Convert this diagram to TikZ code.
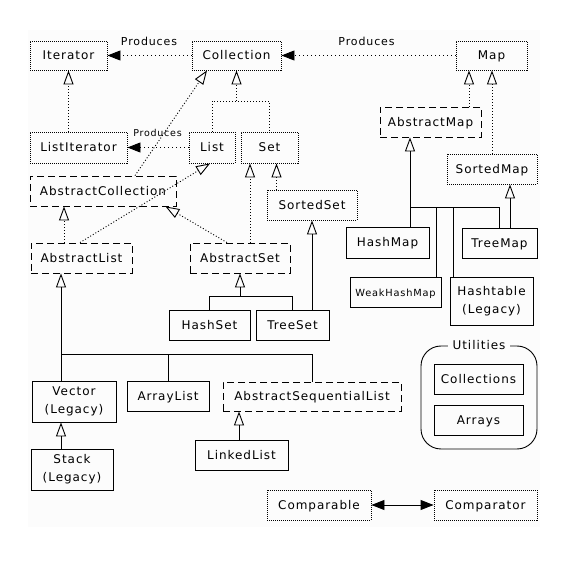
\documentclass[tikz,border=0pt]{standalone}
\usepackage{fontspec}
\setmainfont{DejaVu Sans}[LetterSpace=8]
\usetikzlibrary{arrows.meta}
\definecolor{bggray}{gray}{0.988}
\newcommand\diagfont{\fontsize{12}{18}\selectfont}
\newcommand\prodfont{\fontsize{11}{13}\selectfont}
\newcommand\prodsmall{\fontsize{9.5}{11}\selectfont}
\newcommand\tinyfnt{\fontsize{9.8}{11}\selectfont}
\begin{document}
\begin{tikzpicture}[x=1pt,y=-1pt,
  boxbase/.style={draw, line width=0.9pt, inner sep=0pt, align=center, font=\diagfont},
  oneline/.style={text height=8.8pt, text depth=0pt},
  ifbox/.style={boxbase, oneline, dash pattern=on 1pt off 1pt},
  absbox/.style={boxbase, oneline, dash pattern=on 7pt off 4pt},
  clsbox/.style={boxbase, oneline},
  clsboxtwo/.style={boxbase},
  conn/.style={line width=0.9pt},
  dotconn/.style={conn, dash pattern=on 1pt off 2pt},
  prodconn/.style={conn, dash pattern=on 1pt off 3pt, -{Triangle[length=13pt,width=10pt]}},
  ext/.style={-{Triangle[open,length=14pt,width=10pt,line width=0.9pt]}},
  lbl/.style={inner sep=0pt, text height=8pt, text depth=0pt}
]
\useasboundingbox (0,0) rectangle (574,564);
\fill[bggray] (28,30) rectangle (540,527);

% interfaces
\node[ifbox, minimum width=77pt, minimum height=29pt] (iterator) at (68.5,55.5) {Iterator};
\node[ifbox, minimum width=89pt, minimum height=29pt] (collection) at (236.5,55.5) {Collection};
\node[ifbox, minimum width=71pt, minimum height=29pt] (map) at (491.5,55.5) {Map};
\node[ifbox, minimum width=97pt, minimum height=31pt] (listiterator) at (78.5,147.5) {ListIterator};
\node[ifbox, minimum width=46pt, minimum height=31pt] (list) at (212,147.5) {List};
\node[ifbox, minimum width=57pt, minimum height=31pt] (set) at (269.5,147.5) {Set};
\node[ifbox, minimum width=90pt, minimum height=30pt] (sortedmap) at (492,169) {SortedMap};
\node[ifbox, minimum width=90pt, minimum height=30pt] (sortedset) at (312,205) {SortedSet};
\node[ifbox, minimum width=104pt, minimum height=30pt] (comparable) at (319,505) {Comparable};
\node[ifbox, minimum width=103pt, minimum height=30pt] (comparator) at (485.5,505) {Comparator};

% abstract classes
\node[absbox, minimum width=101pt, minimum height=30pt] (abstractmap) at (430.5,122) {AbstractMap};
\node[absbox, minimum width=146pt, minimum height=30pt] (abscoll) at (103,191) {AbstractCollection};
\node[absbox, minimum width=101pt, minimum height=30pt] (abslist) at (81.5,258) {AbstractList};
\node[absbox, minimum width=100pt, minimum height=30pt] (absset) at (240,258) {AbstractSet};
\node[absbox, minimum width=178pt, minimum height=29pt] (asl) at (312,396.5) {AbstractSequentialList};

% concrete classes
\node[clsbox, minimum width=83pt, minimum height=31pt] (hashmap) at (387.5,242.5) {HashMap};
\node[clsbox, minimum width=75pt, minimum height=30pt] (treemap) at (499.5,243) {TreeMap};
\node[clsbox, minimum width=91pt, minimum height=30pt, font=\tinyfnt] (weakhashmap) at (395.5,292) {WeakHashMap};
\node[clsboxtwo, minimum width=83pt, minimum height=48pt] (hashtable) at (491.5,301) {Hashtable\\(Legacy)};
\node[clsbox, minimum width=81pt, minimum height=30pt] (hashset) at (209.5,325) {HashSet};
\node[clsbox, minimum width=73pt, minimum height=30pt] (treeset) at (292.5,325) {TreeSet};
\node[clsboxtwo, minimum width=84pt, minimum height=41pt] (vector) at (74,401.5) {Vector\\(Legacy)};
\node[clsbox, minimum width=82pt, minimum height=30pt] (arraylist) at (168,396) {ArrayList};
\node[clsboxtwo, minimum width=82pt, minimum height=41pt] (stack) at (72,469.5) {Stack\\(Legacy)};
\node[clsbox, minimum width=93pt, minimum height=30pt] (linkedlist) at (241.5,455) {LinkedList};

% utilities group
\node[draw, line width=0.9pt, rounded corners=20pt, minimum width=116pt, minimum height=103pt, inner sep=0pt] (utilities) at (479,397.5) {};
\node[lbl, fill=bggray, inner xsep=5pt, font=\diagfont, text height=8.8pt] (utiltitle) at (utilities.north) {Utilities};
\node[clsbox, minimum width=89pt, minimum height=30pt] (collections) at (478.5,379) {Collections};
\node[clsbox, minimum width=89pt, minimum height=30pt] (arrays) at (478.5,420) {Arrays};

% Produces connectors
\draw[prodconn] (collection.west) -- (iterator.east);
\node[lbl, font=\prodfont] (prod1) at (149,42) {Produces};
\draw[prodconn] (map.west) -- (collection.east);
\node[lbl, font=\prodfont] (prod2) at (366.5,42) {Produces};
\draw[prodconn] (list.west) -- (listiterator.east);
\node[lbl, font=\prodsmall, text height=7pt] (prod3) at (157.5,133.5) {Produces};

% interface hierarchy
\draw[dotconn, ext] (listiterator.north -| iterator.south) -- (iterator.south);
\coordinate (cj) at (236.5,101);
\draw[dotconn] (list.north) -- (list.north |- cj) -- (set.north |- cj) -- (set.north);
\draw[dotconn, ext] (cj) -- (collection.south);
\draw[dotconn, ext] ([xshift=7pt]set.south |- sortedset.north) -- ([xshift=7pt]set.south);
\draw[dotconn, ext] ([xshift=-22.5pt]map.south |- abstractmap.north) -- ([xshift=-22.5pt]map.south);
\draw[dotconn, ext] (sortedmap.north) -- (sortedmap.north |- map.south);

% abstract implementations
\draw[dotconn, ext] ([xshift=32pt]abscoll.north) -- ([xshift=-29.5pt]collection.south);
\draw[dotconn, ext] ([xshift=-1.5pt]abslist.north) -- ([xshift=-2pt]list.south);
\draw[dotconn, ext] ([xshift=-17.5pt]abslist.north) -- ([xshift=-17.5pt]abslist.north |- abscoll.south);
\draw[dotconn, ext] ([xshift=-13pt]absset.north) -- ([xshift=-11pt]abscoll.south east);
\draw[dotconn, ext] ([xshift=10pt]absset.north) -- ([xshift=10pt]absset.north |- set.south);

% set classes
\coordinate (sj) at (240,296);
\draw[conn] (hashset.north) -- (hashset.north |- sj) -- (treeset.north |- sj) -- (treeset.north);
\draw[conn, ext] (sj) -- (absset.south);
\draw[conn, ext] (treeset.north -| sortedset.south) -- (sortedset.south);

% map classes
\coordinate (mj) at (410,207);
\draw[conn, ext] (mj) -- (mj |- abstractmap.south);
\draw[conn] (hashmap.north -| mj) -- (mj) -- (mj -| treemap.north) -- (treemap.north);
\draw[conn] ([xshift=40.5pt]weakhashmap.north) -- ([xshift=40.5pt]weakhashmap.north |- mj);
\draw[conn] ([xshift=-38.5pt]hashtable.north) -- ([xshift=-38.5pt]hashtable.north |- mj);
\draw[conn, ext] ([xshift=10.5pt]treemap.north) -- ([xshift=10.5pt]treemap.north |- sortedmap.south);

% list classes
\coordinate (lj) at (61,354);
\draw[conn, ext] (lj) -- (lj |- abslist.south);
\draw[conn] (vector.north -| lj) -- (lj) -- (lj -| asl.north) -- (asl.north);
\draw[conn] (arraylist.north) -- (arraylist.north |- lj);
\draw[conn, ext] (stack.north -| lj) -- (vector.south -| lj);
\draw[conn, ext] ([xshift=-2.5pt]linkedlist.north) -- ([xshift=-2.5pt]linkedlist.north |- asl.south);

% Comparable <-> Comparator
\draw[conn, {Triangle[length=13pt,width=10pt]}-{Triangle[length=13pt,width=10pt]}] (comparable.east) -- (comparator.west);
\end{tikzpicture}
\end{document}
